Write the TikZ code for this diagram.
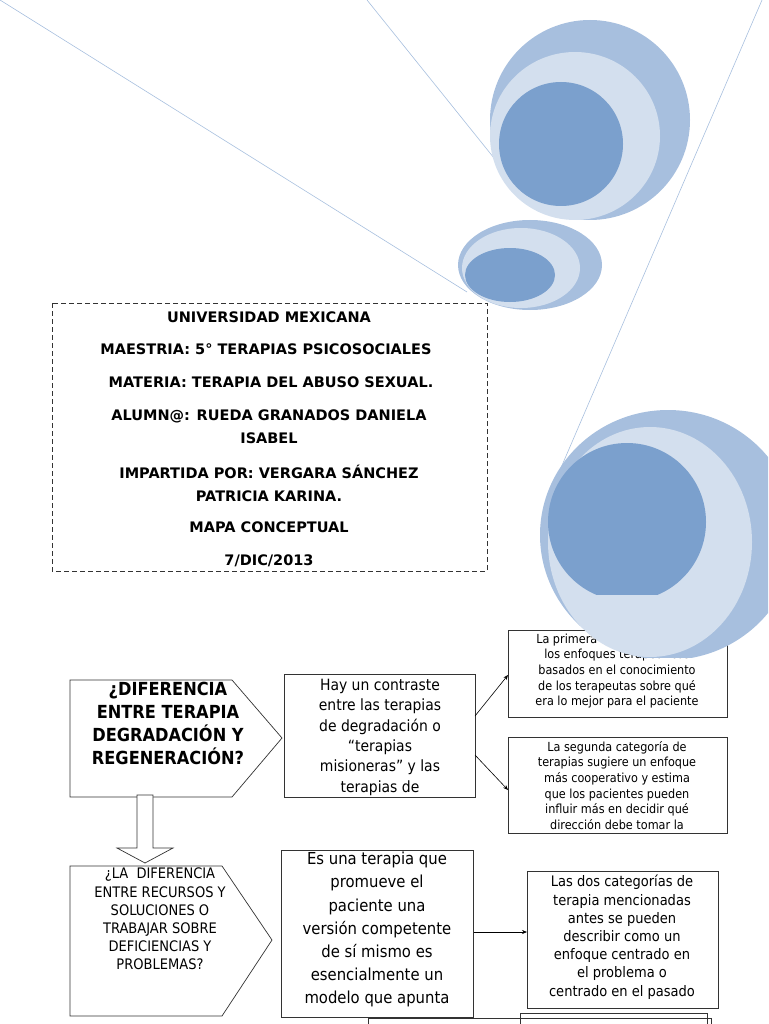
\documentclass[tikz,border=0pt]{standalone}
\usepackage{fontspec}
\setmainfont{DejaVu Sans}
\newfontfamily\condf{DejaVu Sans Condensed}
\usetikzlibrary{arrows.meta}
\definecolor{cOut}{HTML}{A7BFDE}
\definecolor{cMid}{HTML}{D3DFEE}
\definecolor{cIn}{HTML}{7BA0CD}
\tikzset{
  deco/.style={draw=cOut,line width=0.6pt},
  frame/.style={draw=black!80,line width=0.7pt},
  txt/.style={align=center,inner sep=0pt,anchor=north,text=black},
  conn/.style={draw=black,line width=0.6pt,-{Stealth[length=5pt,width=4pt]}}
}
\begin{document}
\begin{tikzpicture}[x=1pt,y=-1pt]
\useasboundingbox (0,0) rectangle (768,1024);
% decorative lines
\coordinate (l1a) at (0,0); \coordinate (l1b) at (467,292);
\coordinate (l2a) at (367,0); \coordinate (l2b) at (502,168);
\coordinate (l3a) at (762,0); \coordinate (l3b) at (560,470);
\draw[deco] (l1a) -- (l1b);
\draw[deco] (l2a) -- (l2b);
\draw[deco] (l3a) -- (l3b);
% top circles
\fill[cOut] (590,120) ellipse [x radius=100,y radius=100];
\fill[cMid] (575,136) ellipse [x radius=85,y radius=84];
\fill[cIn] (561,144) ellipse [x radius=62,y radius=62];
% small circles
\fill[cOut] (530,265) ellipse [x radius=72,y radius=45];
\fill[cMid] (521,268) ellipse [x radius=59,y radius=40];
\fill[cIn] (510,275) ellipse [x radius=45,y radius=27];
% header box
\draw[frame,dashed,dash pattern=on 5pt off 3pt] (52,303) rectangle (487,571);
\begin{scope}[every node/.style={font=\bfseries\fontsize{14.5}{23}\selectfont,align=center,inner sep=0pt}]
\node (h1) at (269,317) {UNIVERSIDAD MEXICANA};
\node (h2) at (266,349) {MAESTRIA: 5° TERAPIAS PSICOSOCIALES};
\node (h3) at (271,382) {MATERIA: TERAPIA DEL ABUSO SEXUAL.};
\node (h4) at (269,427) {ALUMN@: RUEDA GRANADOS DANIELA\\ISABEL};
\node (h5) at (269,483) {IMPARTIDA POR: VERGARA SÁNCHEZ\\PATRICIA KARINA.};
\node (h6) at (269,527) {MAPA CONCEPTUAL};
\node (h7) at (269,561) {7/DIC/2013};
\end{scope}
% flow boxes
\draw[frame,fill=white] (70,680) -- (232,680) -- (282,738) -- (232,797) -- (70,797) -- cycle;
\node[txt,font=\condf\bfseries\fontsize{18}{23}\selectfont] (p1) at (168,682) {¿DIFERENCIA\\ENTRE TERAPIA\\DEGRADACIÓN Y\\REGENERACIÓN?};
\node[frame,fill=white,minimum width=191pt,minimum height=123pt,inner sep=0pt,anchor=north west] (b2) at (284,674) {};
\begin{scope}\clip (284,674) rectangle (475,796);
\node[txt,font=\condf\fontsize{15.5}{20.3}\selectfont] at (380,679) {Hay un contraste\\entre las terapias\\de degradación o\\“terapias\\misioneras” y las\\terapias de};
\end{scope}
\node[frame,fill=white,minimum width=219pt,minimum height=87pt,inner sep=0pt,anchor=north west] (b3) at (508,630) {};
\begin{scope}\clip (508,630) rectangle (727,716);
\node[txt,font=\condf\fontsize{12.5}{15.6}\selectfont] at (617,633) {La primera categoría incluye\\los enfoques terapéuticos\\basados en el conocimiento\\de los terapeutas sobre qué\\era lo mejor para el paciente};
\end{scope}
\node[frame,fill=white,minimum width=219pt,minimum height=96pt,inner sep=0pt,anchor=north west] (b4) at (508,737) {};
\begin{scope}\clip (508,737) rectangle (727,832);
\node[txt,font=\condf\fontsize{12.5}{15.6}\selectfont] at (617,741) {La segunda categoría de\\terapias sugiere un enfoque\\más cooperativo y estima\\que los pacientes pueden\\influir más en decidir qué\\dirección debe tomar la};
\end{scope}
\coordinate (a1s) at (475,716); \coordinate (a2s) at (475,755);
\draw[conn] (a1s) -- (b3.west|-0,675);
\draw[conn] (a2s) -- (b4.west|-0,790);
% big block arrow
\draw[frame,fill=white] (137,795) -- (153,795) -- (153,848) -- (173,848) -- (145,863) -- (117,848) -- (137,848) -- cycle;
\draw[frame,fill=white] (70,866) -- (222,866) -- (272,940) -- (222,1016) -- (70,1016) -- cycle;
\node[txt,font=\condf\fontsize{14.5}{18.2}\selectfont] (p2) at (160,868) {¿LA\ \ DIFERENCIA\\ENTRE RECURSOS Y\\SOLUCIONES O\\TRABAJAR SOBRE\\DEFICIENCIAS Y\\PROBLEMAS?};
\node[frame,fill=white,minimum width=192pt,minimum height=167pt,inner sep=0pt,anchor=north west] (b5) at (281,850) {};
\node[txt,font=\condf\fontsize{16.5}{23.2}\selectfont] at (377,852) {Es una terapia que\\promueve el\\paciente una\\versión competente\\de sí mismo es\\esencialmente un\\modelo que apunta};
\node[frame,fill=white,minimum width=191pt,minimum height=137pt,inner sep=0pt,anchor=north west] (b6) at (527,871) {};
\begin{scope}\clip (527,871) rectangle (718,1007);
\node[txt,font=\condf\fontsize{14.5}{18.2}\selectfont] at (622,875) {Las dos categorías de\\terapia mencionadas\\antes se pueden\\describir como un\\enfoque centrado en\\el problema o\\centrado en el pasado};
\end{scope}
\draw[conn] (b5.east|-0,932) -- (b6.west|-0,932);
% bottom partial boxes
\draw[frame] (368,1030) -- (368,1018) -- (711,1018) -- (711,1030);
\draw[frame] (520,1030) -- (520,1013) -- (707,1013) -- (707,1030);
% big circle over the right
\begin{scope}
\clip (530,400) rectangle (768,657);
\fill[cOut] (668,535) ellipse [x radius=128,y radius=125];
\fill[cMid] (650,542) ellipse [x radius=102,y radius=115];
\clip (530,400) rectangle (768,594);
\fill[cIn] (627,522) ellipse [x radius=79,y radius=79];
\end{scope}
\end{tikzpicture}
\end{document}
